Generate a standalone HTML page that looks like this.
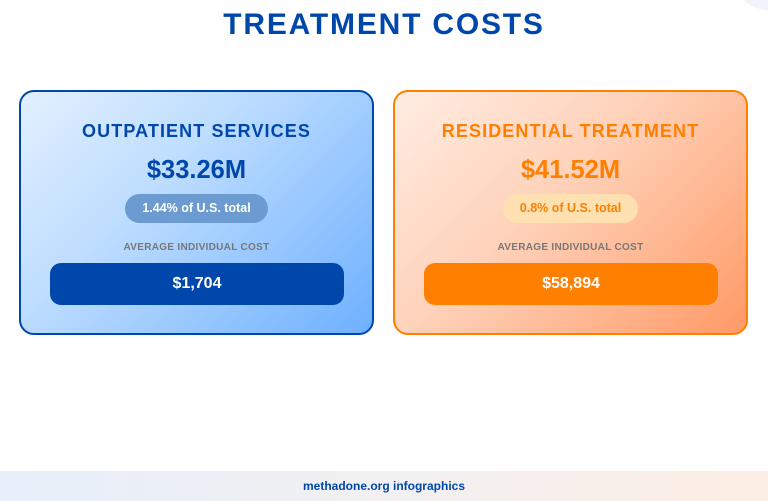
<!DOCTYPE html>
<html><head><meta charset="utf-8"><style>
*{margin:0;padding:0;box-sizing:border-box}
body{width:768px;height:501px;background:#fff;font-family:"Liberation Sans",Arial,sans-serif;position:relative;overflow:hidden}
.title{position:absolute;top:8px;left:0;width:768px;text-align:center;font-size:30px;font-weight:bold;color:#0047ab;letter-spacing:1.8px}
.corner{position:absolute;right:-30px;top:-40px;width:60px;height:50px;border-radius:50%;background:#f1f5fb}
.card{position:absolute;top:90px;width:355px;height:245px;border-radius:15px;border:2.5px solid}
.c1{left:19px;border-color:#0047ab;background:linear-gradient(135deg,#e3f0ff 0%,#bcdcff 40%,#6eb0ff 100%)}
.c2{left:393px;border-color:#ff7f00;background:linear-gradient(135deg,#ffeee3 0%,#ffd0b8 45%,#ff9a66 100%)}
.ct{position:absolute;top:29px;width:100%;text-align:center;font-size:18px;font-weight:bold;letter-spacing:1.1px}
.amt{position:absolute;top:64px;width:100%;text-align:center;font-size:25.5px;font-weight:bold}
.pill{position:absolute;top:102px;height:29px;border-radius:15px;font-size:12.5px;font-weight:bold;line-height:29px;text-align:center}
.lab{position:absolute;top:150px;width:100%;text-align:center;font-size:10px;font-weight:bold;color:#777;letter-spacing:.3px}
.btn{position:absolute;top:171px;left:29px;width:294px;height:42px;border-radius:11px;color:#fff;font-size:16px;font-weight:bold;text-align:center;line-height:42px}
.c1 .ct,.c1 .amt{color:#0047ab}
.c2 .ct,.c2 .amt{color:#ff7f00}
.footer{position:absolute;left:0;top:471px;width:768px;height:30px;background:linear-gradient(90deg,#e6effa,#f2f0f2 50%,#fdeee4);text-align:center;font-size:12px;font-weight:bold;color:#0047ab;line-height:30px}
</style></head><body>
<div class="corner"></div>
<div class="title">TREATMENT COSTS</div>
<div class="card c1">
 <div class="ct">OUTPATIENT SERVICES</div>
 <div class="amt">$33.26M</div>
 <div class="pill" style="left:104px;width:143px;background:#6b9bd0;color:#fff">1.44% of U.S. total</div>
 <div class="lab">AVERAGE INDIVIDUAL COST</div>
 <div class="btn" style="background:#0047ab">$1,704</div>
</div>
<div class="card c2">
 <div class="ct">RESIDENTIAL TREATMENT</div>
 <div class="amt">$41.52M</div>
 <div class="pill" style="left:108px;width:135px;background:#ffe0b0;color:#ff7f00">0.8% of U.S. total</div>
 <div class="lab">AVERAGE INDIVIDUAL COST</div>
 <div class="btn" style="background:#ff7f00">$58,894</div>
</div>
<div class="footer">methadone.org infographics</div>
</body></html>
